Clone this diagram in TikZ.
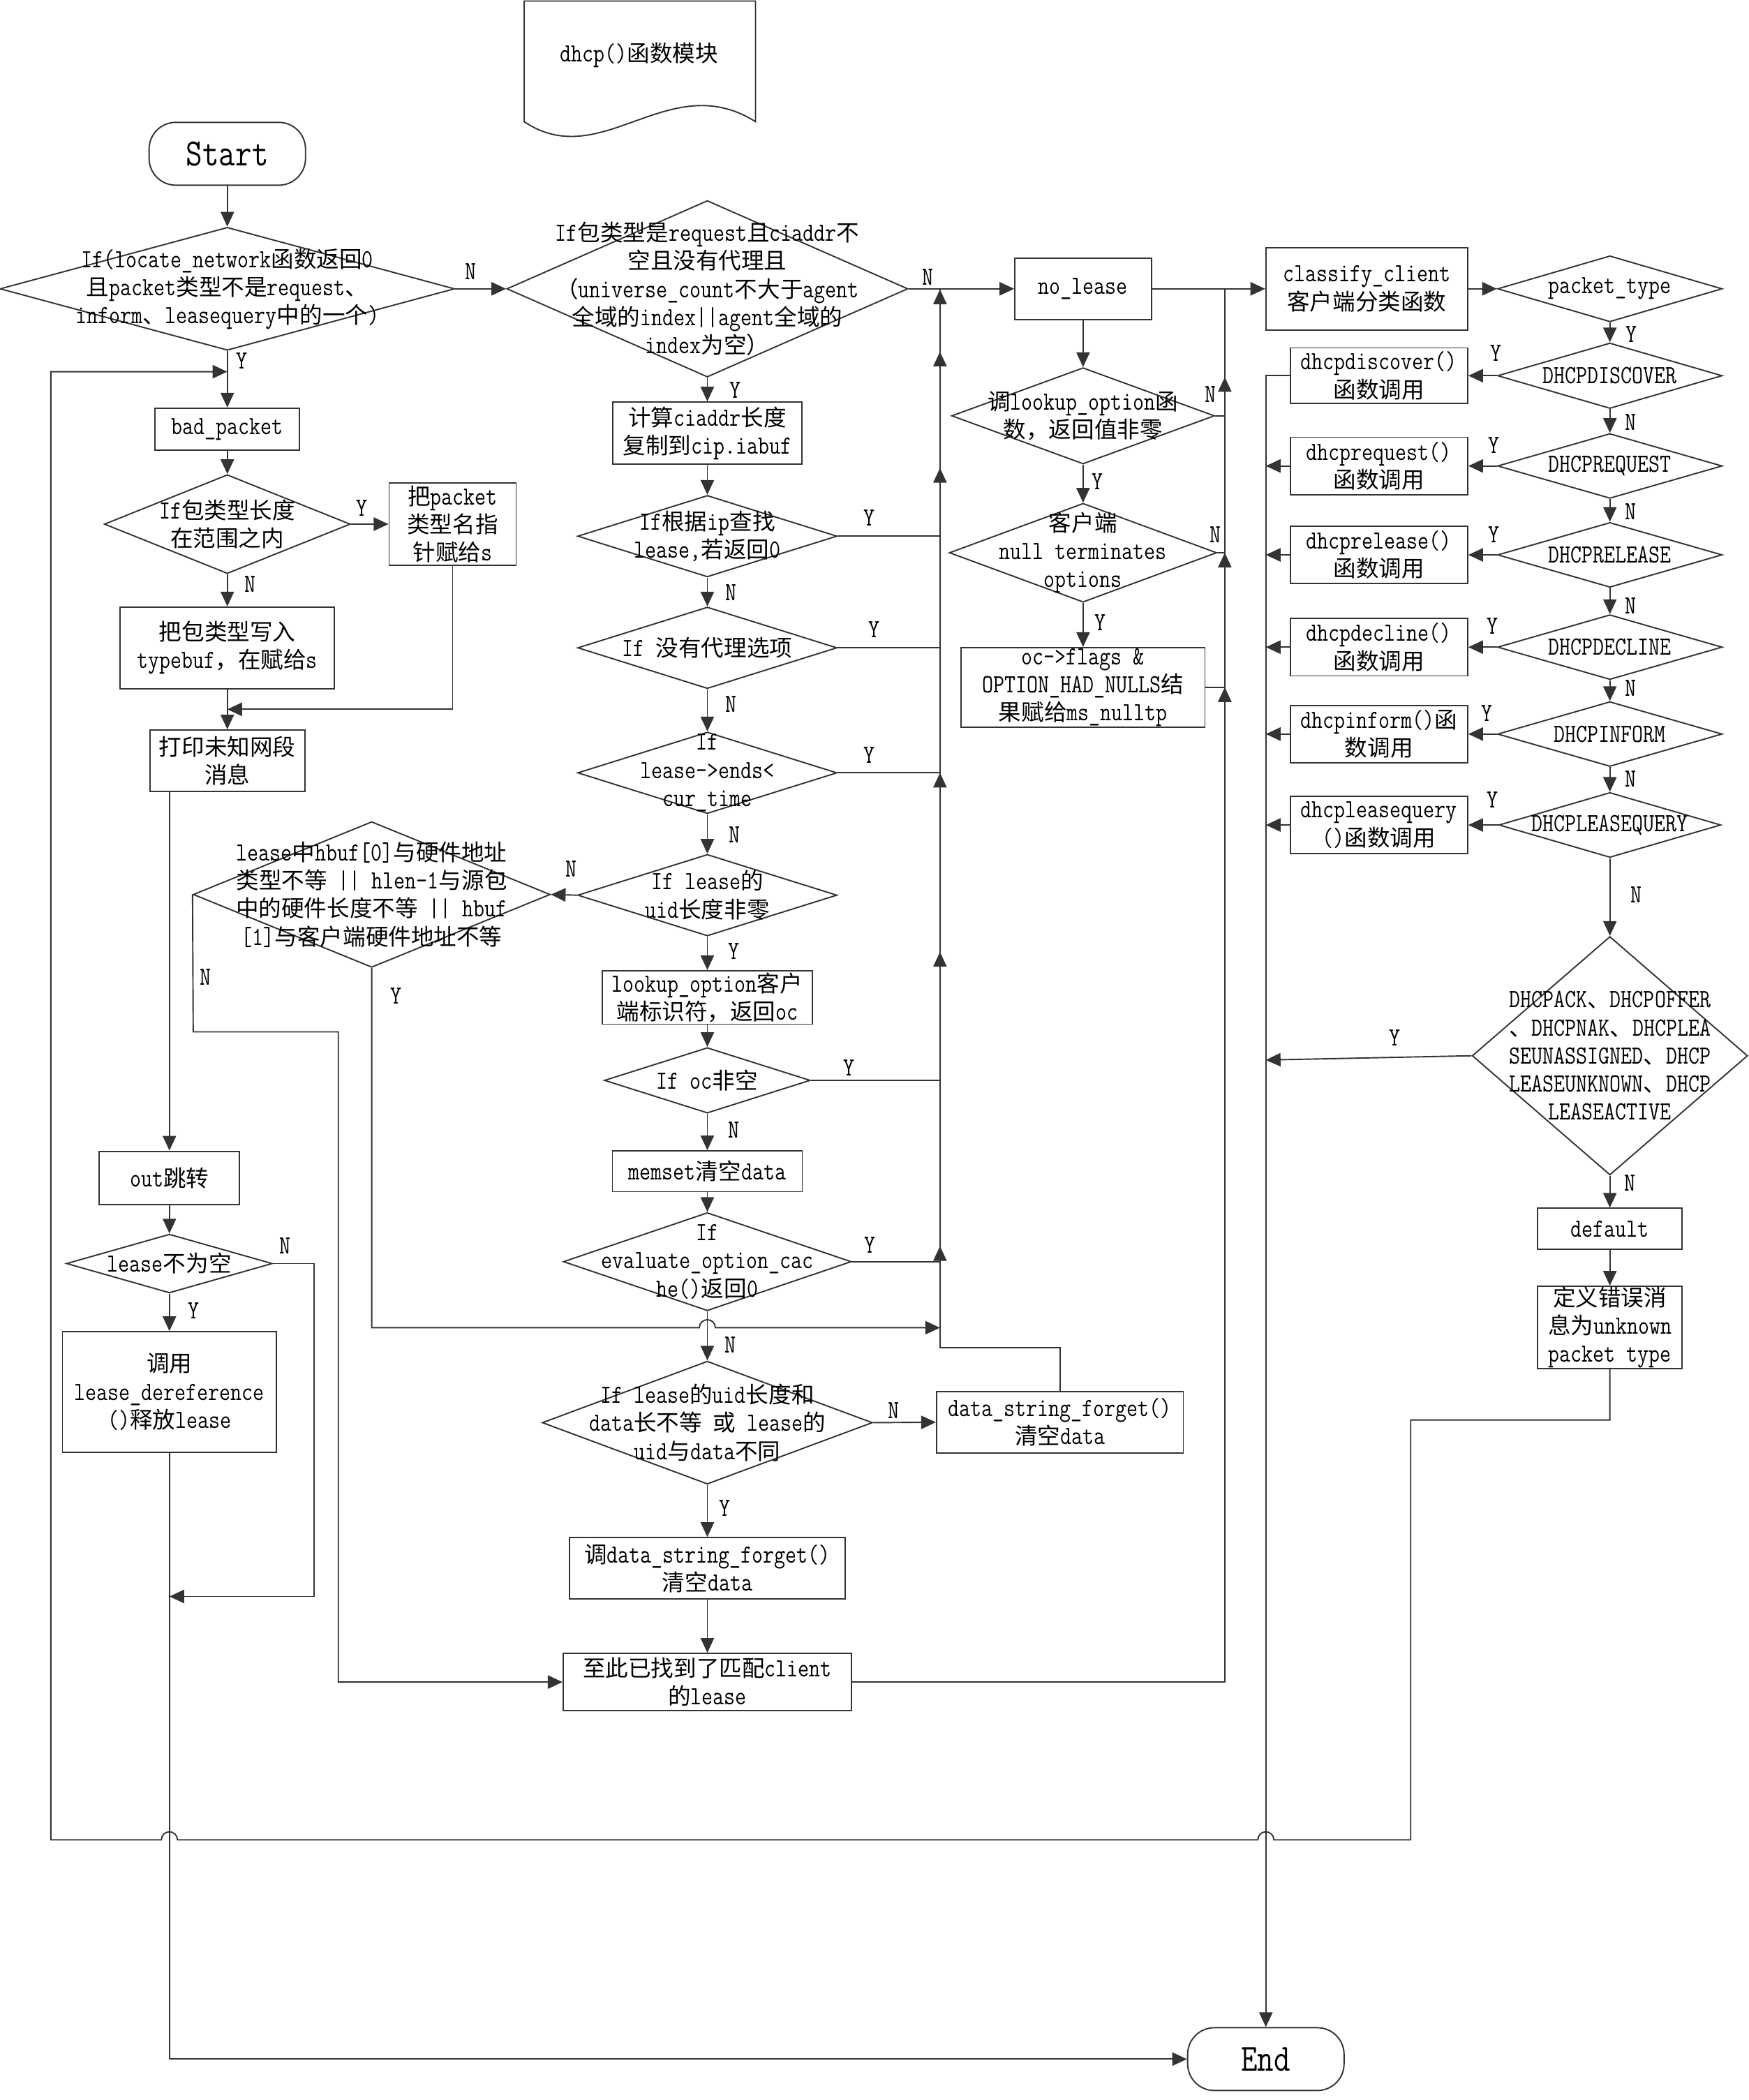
\documentclass[tikz,border=0pt]{standalone}
\usepackage{fontspec}
\setmainfont{Latin Modern Mono}[Scale=1.15,FakeStretch=0.83]
\newfontfamily\latinfont{Latin Modern Mono}[Scale=1.15,FakeStretch=0.83]
\newfontfamily\cjkfont{Noto Sans CJK SC}
\usetikzlibrary{shapes.geometric,arrows.meta}
\XeTeXinterchartokenstate=1
\newXeTeXintercharclass\CJKcls
\newcount\mycnt
\def\setcls#1#2{\mycnt=#1 \loop\XeTeXcharclass\mycnt=\CJKcls \ifnum\mycnt<#2 \advance\mycnt by 1 \repeat}
\setcls{"3000}{"303F}
\setcls{"4E00}{"9FFF}
\setcls{"FF00}{"FFEF}
\XeTeXinterchartoks 0 \CJKcls = {\cjkfont}
\XeTeXinterchartoks 4095 \CJKcls = {\cjkfont}
\XeTeXinterchartoks \CJKcls 0 = {\latinfont}
\XeTeXinterchartoks \CJKcls 4095 = {\latinfont}
\newcommand\nsz{\fontsize{17}{21}\selectfont}
\newcommand\bsz{\fontsize{25}{30}\selectfont}
\tikzset{
  ln/.style={draw=black!80, line width=1pt},
  arr/.style={draw=black!80, line width=1pt, -{Triangle[length=11pt,width=10pt]}},
  box/.style={draw=black!80, line width=1pt, rectangle, inner sep=0pt, align=center, font=\nsz},
  dia/.style={draw=black!80, line width=1pt, diamond, inner sep=0pt},
  txt/.style={align=center, inner sep=0pt, font=\nsz},
  yn/.style={inner sep=0pt, font=\nsz},
  term/.style={draw=black!80, line width=1pt, rounded corners=20pt, minimum width=117pt, minimum height=47pt, inner sep=0pt, font=\bsz}
}
\begin{document}
\begin{tikzpicture}[x=1pt,y=-1pt]
\useasboundingbox (0,0) rectangle (1308,1570.6);

% title document shape
\draw[ln] (392,91) -- (392,0.8) -- (565,0.8) -- (565,91) .. controls (500,50) and (450,130) .. (392,91);
\node[txt] (title) at (478,41) {dhcp()函数模块};

% ---------- left column ----------
\node[term] (start) at (170,115) {Start};
\node[dia, minimum width=340pt, minimum height=92pt] (d1) at (170,216) {};
\node[txt] (d1t) at (d1.center) {If(locate\_network函数返回0\\且packet类型不是request、\\inform、leasequery中的一个)};
\node[box, minimum width=108pt, minimum height=31.5pt] (bad) at (170,321) {bad\_packet};
\node[dia, minimum width=184pt, minimum height=74pt] (dlen) at (170,392) {};
\node[txt] (dlent) at (dlen.center) {If包类型长度\\在范围之内};
\node[box, minimum width=95pt, minimum height=62pt] (ptr) at (338.5,392) {把packet\\类型名指\\针赋给s};
\node[box, minimum width=160pt, minimum height=61pt] (wtype) at (170,484.5) {把包类型写入\\typebuf，在赋给s};
\node[box, minimum width=116pt, minimum height=46pt] (print) at (170,569) {打印未知网段\\消息};
\node[box, minimum width=104.7pt, minimum height=40pt] (out) at (126.7,881) {out跳转};
\node[dia, minimum width=154pt, minimum height=44pt] (dlease) at (126.7,945) {};
\node[txt] (dleaset) at (dlease.center) {lease不为空};
\node[box, minimum width=160pt, minimum height=90pt] (deref) at (126.7,1041) {调用\\lease\_dereference\\()释放lease};
\node[dia, minimum width=267pt, minimum height=109pt] (d7) at (278,669) {};
\node[txt] (d7t) at (d7.center) {lease中hbuf[0]与硬件地址\\类型不等 || hlen-1与源包\\中的硬件长度不等 || hbuf\\{[1]}与客户端硬件地址不等};

% ---------- middle column ----------
\node[dia, minimum width=300pt, minimum height=132pt] (d2) at (529,216) {};
\node[txt] (d2t) at (d2.center) {If包类型是request且ciaddr不\\空且没有代理且\\（universe\_count不大于agent\\全域的index||agent全域的\\index为空）};
\node[box, minimum width=141pt, minimum height=46.5pt] (calc) at (529,324) {计算ciaddr长度\\复制到cip.iabuf};
\node[dia, minimum width=194pt, minimum height=61pt] (d3) at (529,401) {};
\node[txt] (d3t) at (d3.center) {If根据ip查找\\lease,若返回0};
\node[dia, minimum width=194pt, minimum height=61pt] (d4) at (529,484.5) {};
\node[txt] (d4t) at (d4.center) {If 没有代理选项};
\node[dia, minimum width=194pt, minimum height=61pt] (d5) at (529,578) {};
\node[txt] (d5t) at (d5.center) {If\\lease->ends<\\cur\_time};
\node[dia, minimum width=194pt, minimum height=61pt] (d6) at (529,669.5) {};
\node[txt] (d6t) at (d6.center) {If lease的\\uid长度非零};
\node[box, minimum width=157.5pt, minimum height=40pt] (lookup) at (529,746) {lookup\_option客户\\端标识符，返回oc};
\node[dia, minimum width=154pt, minimum height=49pt] (doc) at (529,808) {};
\node[txt] (doct) at (doc.center) {If oc非空};
\node[box, minimum width=142pt, minimum height=30.5pt] (memset) at (529,876) {memset清空data};
\node[dia, minimum width=215.4pt, minimum height=73.4pt] (deval) at (529,943.6) {};
\node[txt] (devalt) at (deval.center) {If\\evaluate\_option\_cac\\he()返回0};
\node[dia, minimum width=247pt, minimum height=92pt] (duid) at (529,1064) {};
\node[txt] (duidt) at (duid.center) {If lease的uid长度和\\data长不等 或 lease的\\uid与data不同};
\node[box, minimum width=184.6pt, minimum height=45.7pt] (dsf) at (792.7,1063.7) {data\_string\_forget()\\清空data};
\node[box, minimum width=206pt, minimum height=46pt] (dsf2) at (529,1173) {调data\_string\_forget()\\清空data};
\node[box, minimum width=215.6pt, minimum height=42.8pt] (final) at (529,1258) {至此已找到了匹配client\\的lease};

% ---------- no_lease column ----------
\node[box, minimum width=102pt, minimum height=46pt] (nolease) at (810,216) {no\_lease};
\node[dia, minimum width=196.6pt, minimum height=72pt] (dlk) at (810,311) {};
\node[txt] (dlkt) at (dlk.center) {调lookup\_option函\\数，返回值非零};
\node[dia, minimum width=200pt, minimum height=74pt] (dnull) at (810,413.4) {};
\node[txt] (dnullt) at (dnull.center) {客户端\\null terminates\\options};
\node[box, minimum width=182.3pt, minimum height=59.3pt] (ocbox) at (810,514) {oc->flags \&\\OPTION\_HAD\_NULLS结\\果赋给ms\_nulltp};

% ---------- right column ----------
\node[box, minimum width=151pt, minimum height=61.7pt] (classify) at (1022.2,216) {classify\_client\\客户端分类函数};
\node[dia, minimum width=168pt, minimum height=49.4pt] (ptype) at (1204,216) {};
\node[txt] (ptypet) at (ptype.center) {packet\_type};
\node[dia, minimum width=168pt, minimum height=49pt] (ddisc) at (1204,281) {};
\node[txt] (ddisct) at (ddisc.center) {DHCPDISCOVER};
\node[dia, minimum width=168pt, minimum height=48.5pt] (dreq) at (1204,348.5) {};
\node[txt] (dreqt) at (dreq.center) {DHCPREQUEST};
\node[dia, minimum width=168pt, minimum height=48.5pt] (drel) at (1204,415) {};
\node[txt] (drelt) at (drel.center) {DHCPRELEASE};
\node[dia, minimum width=168pt, minimum height=48.5pt] (ddec) at (1204,484) {};
\node[txt] (ddect) at (ddec.center) {DHCPDECLINE};
\node[dia, minimum width=168pt, minimum height=48.5pt] (dinf) at (1204,549) {};
\node[txt] (dinft) at (dinf.center) {DHCPINFORM};
\node[dia, minimum width=166pt, minimum height=48.6pt] (dlq) at (1204,617) {};
\node[txt] (dlqt) at (dlq.center) {DHCPLEASEQUERY};
\node[box, minimum width=132.7pt, minimum height=41.6pt] (bdisc) at (1031.3,281) {dhcpdiscover()\\函数调用};
\node[box, minimum width=132.7pt, minimum height=43pt] (breq) at (1031.3,348.5) {dhcprequest()\\函数调用};
\node[box, minimum width=132.7pt, minimum height=43pt] (brel) at (1031.3,415) {dhcprelease()\\函数调用};
\node[box, minimum width=132.7pt, minimum height=43pt] (bdec) at (1031.3,484) {dhcpdecline()\\函数调用};
\node[box, minimum width=132.7pt, minimum height=43pt] (binf) at (1031.3,549) {dhcpinform()函\\数调用};
\node[box, minimum width=132.7pt, minimum height=42.5pt] (blq) at (1031.3,617) {dhcpleasequery\\()函数调用};
\node[dia, minimum width=206pt, minimum height=178.4pt] (big) at (1204,789.6) {};
\node[txt] (bigt) at (big.center) {DHCPACK、DHCPOFFER\\、DHCPNAK、DHCPLEA\\SEUNASSIGNED、DHCP\\LEASEUNKNOWN、DHCP\\LEASEACTIVE};
\node[box, minimum width=108pt, minimum height=30.6pt] (default) at (1204,919) {default};
\node[box, minimum width=108pt, minimum height=61.5pt] (def2) at (1204,992.8) {定义错误消\\息为unknown\\packet type};
\node[term] (End) at (946.7,1540) {End};

% ---------- junction coordinates ----------
\coordinate (jb) at (170,278);
\coordinate (jp) at (170,530.5);
\coordinate (jl) at (126.7,1194);
\coordinate (vtop) at (703,216);
\coordinate (jy) at (703,993);
\coordinate (vtop2) at (916,216);
\coordinate (jbig) at (946.7,792.8);
\coordinate (jd) at (946.7,281);

% ---------- connectors: left ----------
\draw[arr] (start.south) -- (d1.north);
\draw[arr] (d1.east) -- (d2.west);
\draw[arr] (d1.south) -- (bad.north);
\draw[arr] (def2.south) |- (1055,1062) -- (1055,1376)
  -- (952.7,1376) arc[start angle=0,end angle=180,radius=6pt]
  -- (132.7,1376) arc[start angle=0,end angle=180,radius=6pt]
  -- (38,1376) -- (38,278) -- (jb);
\draw[arr] (bad.south) -- (dlen.north);
\draw[arr] (dlen.east) -- (ptr.west);
\draw[arr] (dlen.south) -- (wtype.north);
\draw[arr] (ptr.south) |- (jp);
\draw[arr] (wtype.south) -- (print.north);
\draw[arr] (print.south -| out.north) -- (out.north);
\draw[arr] (out.south) -- (dlease.north);
\draw[arr] (dlease.east) -- (235,945) |- (jl);
\draw[arr] (dlease.south) -- (deref.north);
\draw[arr] (deref.south) |- (End.west);
\draw[arr] (d7.south) -- (278,993) -- (523,993) arc[start angle=180,end angle=0,radius=6pt] -- (jy);
\draw[arr] (d7.west) -- (144.5,771.7) -- (253,771.7) |- (final.west);

% ---------- connectors: middle ----------
\draw[arr] (d2.east) -- (nolease.west);
\draw[arr] (d2.south) -- (calc.north);
\draw[arr] (calc.south) -- (d3.north);
\draw[ln] (d3.east) -- (d3.east -| vtop);
\draw[arr] (d3.south) -- (d4.north);
\draw[ln] (d4.east) -- (d4.east -| vtop);
\draw[arr] (d4.south) -- (d5.north);
\draw[ln] (d5.east) -- (d5.east -| vtop);
\draw[arr] (d5.south) -- (d6.north);
\draw[arr] (d6.west) -- (d7.east);
\draw[arr] (d6.south) -- (lookup.north);
\draw[arr] (lookup.south) -- (doc.north);
\draw[ln] (doc.east) -- (doc.east -| vtop);
\draw[arr] (doc.south) -- (memset.north);
\draw[arr] (memset.south) -- (deval.north);
\draw[ln] (deval.east) -- (deval.east -| vtop);
\draw[arr] (deval.south) -- (duid.north);
\draw[arr] (duid.east) -- (dsf.west);
\draw[ln] (dsf.north) |- (703,1008) -- (vtop);
\draw[arr] (duid.south) -- (dsf2.north);
\draw[arr] (dsf2.south) -- (final.north);
\foreach \t in {216.5,263,350,578,712,932} \draw[arr] (703,\t+12) -- (703,\t);

% ---------- connectors: no_lease ----------
\draw[ln] (final.east) -| (vtop2);
\draw[arr] (nolease.east) -- (classify.west);
\draw[arr] (nolease.south) -- (dlk.north);
\draw[ln] (dlk.east) -- (dlk.east -| vtop2);
\draw[arr] (dlk.south) -- (dnull.north);
\draw[ln] (dnull.east) -- (dnull.east -| vtop2);
\draw[arr] (dnull.south) -- (ocbox.north);
\draw[ln] (ocbox.east) -- (ocbox.east -| vtop2);
\foreach \t in {282,413.4,514} \draw[arr] (916,\t+12) -- (916,\t);

% ---------- connectors: right ----------
\draw[arr] (classify.east) -- (ptype.west);
\draw[arr] (ptype.south) -- (ddisc.north);
\draw[arr] (ddisc.south) -- (dreq.north);
\draw[arr] (dreq.south) -- (drel.north);
\draw[arr] (drel.south) -- (ddec.north);
\draw[arr] (ddec.south) -- (dinf.north);
\draw[arr] (dinf.south) -- (dlq.north);
\draw[arr] (dlq.south) -- (big.north);
\draw[arr] (big.south) -- (default.north);
\draw[arr] (default.south) -- (def2.north);
\draw[arr] (ddisc.west) -- (bdisc.east);
\draw[arr] (dreq.west) -- (breq.east);
\draw[arr] (drel.west) -- (brel.east);
\draw[arr] (ddec.west) -- (bdec.east);
\draw[arr] (dinf.west) -- (binf.east);
\draw[arr] (dlq.west) -- (blq.east);
\draw[arr] (bdisc.west) -- (jd) -- (End.north);
\draw[arr] (breq.west) -- (breq.west -| jd);
\draw[arr] (brel.west) -- (brel.west -| jd);
\draw[arr] (bdec.west) -- (bdec.west -| jd);
\draw[arr] (binf.west) -- (binf.west -| jd);
\draw[arr] (blq.west) -- (blq.west -| jd);
\draw[arr] (big.west) -- (jbig);

% ---------- Y / N labels ----------
\node[yn] (l01) at (352,203) {N};
\node[yn] (l02) at (181,270) {Y};
\node[yn] (l03) at (270.5,380) {Y};
\node[yn] (l04) at (187,437) {N};
\node[yn] (l05) at (213,931.6) {N};
\node[yn] (l06) at (145,980.5) {Y};
\node[yn] (l07) at (153.7,730.7) {N};
\node[yn] (l08) at (296,745) {Y};
\node[yn] (l09) at (427,650) {N};
\node[yn] (l10) at (550,292) {Y};
\node[yn] (l11) at (650,387.5) {Y};
\node[yn] (l12) at (547,443) {N};
\node[yn] (l13) at (653.5,471) {Y};
\node[yn] (l14) at (547,526.6) {N};
\node[yn] (l15) at (650,565) {Y};
\node[yn] (l16) at (549.6,624.5) {N};
\node[yn] (l17) at (548.6,711.5) {Y};
\node[yn] (l18) at (635,798.6) {Y};
\node[yn] (l19) at (548.6,845) {N};
\node[yn] (l20) at (650.4,931) {Y};
\node[yn] (l21) at (546,1006) {N};
\node[yn] (l22) at (668.6,1054.7) {N};
\node[yn] (l23) at (542.3,1128) {Y};
\node[yn] (l24) at (693.7,207) {N};
\node[yn] (l25) at (905.6,295) {N};
\node[yn] (l26) at (821,360) {Y};
\node[yn] (l27) at (909,400) {N};
\node[yn] (l28) at (823,465.6) {Y};
\node[yn] (l29) at (1220,249.8) {Y};
\node[yn] (l30) at (1119,264.4) {Y};
\node[yn] (l31) at (1219.7,315.6) {N};
\node[yn] (l32) at (1117,332.9) {Y};
\node[yn] (l33) at (1219.7,382.4) {N};
\node[yn] (l34) at (1117,400) {Y};
\node[yn] (l35) at (1219.7,453) {N};
\node[yn] (l36) at (1116,468.2) {Y};
\node[yn] (l37) at (1219.7,514.7) {N};
\node[yn] (l38) at (1112,533.4) {Y};
\node[yn] (l39) at (1219.7,582.5) {N};
\node[yn] (l40) at (1116,598) {Y};
\node[yn] (l41) at (1223.5,669.4) {N};
\node[yn] (l42) at (1043.4,776.4) {Y};
\node[yn] (l43) at (1219,884.7) {N};
\end{tikzpicture}
\end{document}
